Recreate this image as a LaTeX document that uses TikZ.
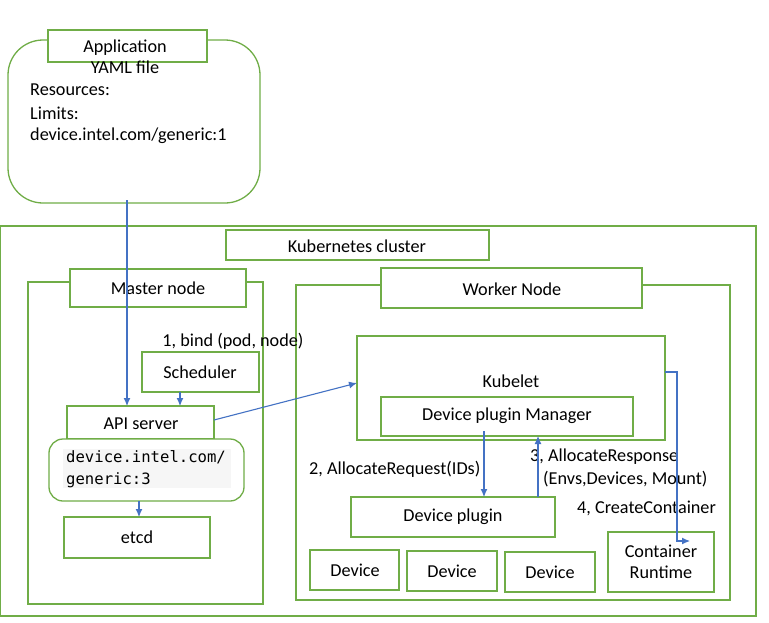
\documentclass[tikz,border=0pt]{standalone}
\usepackage{fontspec}
\setmainfont{Carlito}
\setmonofont{DejaVu Sans Mono}
\definecolor{gr}{RGB}{112,173,71}
\definecolor{bl}{RGB}{68,114,196}
\begin{document}
\begin{tikzpicture}[x=1pt,y=-1pt,
  bx/.style={draw=gr,line width=1.3pt,fill=white},
  ar/.style={draw=bl,line width=1.1pt,-{Latex[length=8pt,width=7pt]}},
  t/.style={font=\fontsize{18.2}{21}\selectfont,inner sep=0pt}]
\usetikzlibrary{arrows.meta}
\useasboundingbox (0,0) rectangle (769,622);
% application
\draw[bx,rounded corners=35pt] (8,40) rectangle (260,203);
\draw[bx] (48,30) rectangle (207,62);
\node[t,align=center] (app) at (125,57) {Application\\YAML file};
\node[t,anchor=west] (r1) at (30,90) {Resources:};
\node[t,anchor=west] (r2) at (30,113) {Limits:};
\node[t,anchor=west] (r3) at (30,136) {device.intel.com/generic:1};
\coordinate (appb) at (127,200);
% cluster
\draw[bx] (0,226) rectangle (756,616);
\draw[bx] (226,230) rectangle (489,260);
\node[t] (kc) at (357,246) {Kubernetes cluster};
% master
\draw[bx] (28,282) rectangle (263,604);
\draw[bx] (70,269) rectangle (246,307);
\node[t] (mn) at (158,288) {Master node};
\draw[bx] (142,352) rectangle (259,392);
\node[t] (sch) at (200,372) {Scheduler};
\draw[bx] (67,406) rectangle (214,439);
\node[t] (api) at (141,424) {API server};
\draw[bx,rounded corners=14pt] (49,439) rectangle (244,501);
\fill[gray!7] (63,449) rectangle (231,488);
\node[inner sep=0pt,anchor=west,align=left,font=\ttfamily\fontsize{15.6}{22}\selectfont] (code) at (66,469) {device.intel.com/\\generic:3};
\draw[bx] (64,517) rectangle (210,558);
\node[t] (etcd) at (137,537) {etcd};
% worker
\draw[bx] (296,285) rectangle (730,600);
\draw[bx] (381,268) rectangle (642,308);
\node[t] (wn) at (512,289) {Worker Node};
\draw[bx] (357,336) rectangle (665,440);
\node[t] (kub) at (511,381) {Kubelet};
\draw[bx] (381,397) rectangle (633,436);
\node[t] (dpm) at (507,416) {Device plugin Manager};
\draw[bx] (351,497) rectangle (555,537);
\node[t] (dp) at (453,517) {Device plugin};
\draw[bx] (310,550) rectangle (399,590); \node[t] (d1) at (355,570) {Device};
\draw[bx] (407,551) rectangle (497,591); \node[t] (d2) at (452,571) {Device};
\draw[bx] (505,552) rectangle (595,592); \node[t] (d3) at (550,572) {Device};
\draw[bx] (608,532) rectangle (714,592);
\node[t,align=center] (cr) at (661,562) {Container\\Runtime};
\node[t] (bind) at (233,341) {1, bind (pod, node)};
\node[t,anchor=west] (l2) at (309,469) {2, AllocateRequest(IDs)};
\node[t,anchor=west] (l3) at (530,457) {3, AllocateResponse};
\node[t,anchor=west] (l3b) at (543,479) {(Envs,Devices, Mount)};
\node[t,anchor=west] (l4) at (577,508) {4, CreateContainer};
% arrows
\draw[ar] (appb) -- (127,406);
\draw[ar] (180,392) -- (180,406);
\draw[ar] (139,501) -- (139,517);
\draw[ar] (214,420) -- (357,383);
\draw[ar] (484,431) -- (484,497);
\draw[ar] (538,497) -- (538,436);
\draw[ar] (665,372) -- (677,372) -- (677,541) -- (690,541);
\end{tikzpicture}
\end{document}
